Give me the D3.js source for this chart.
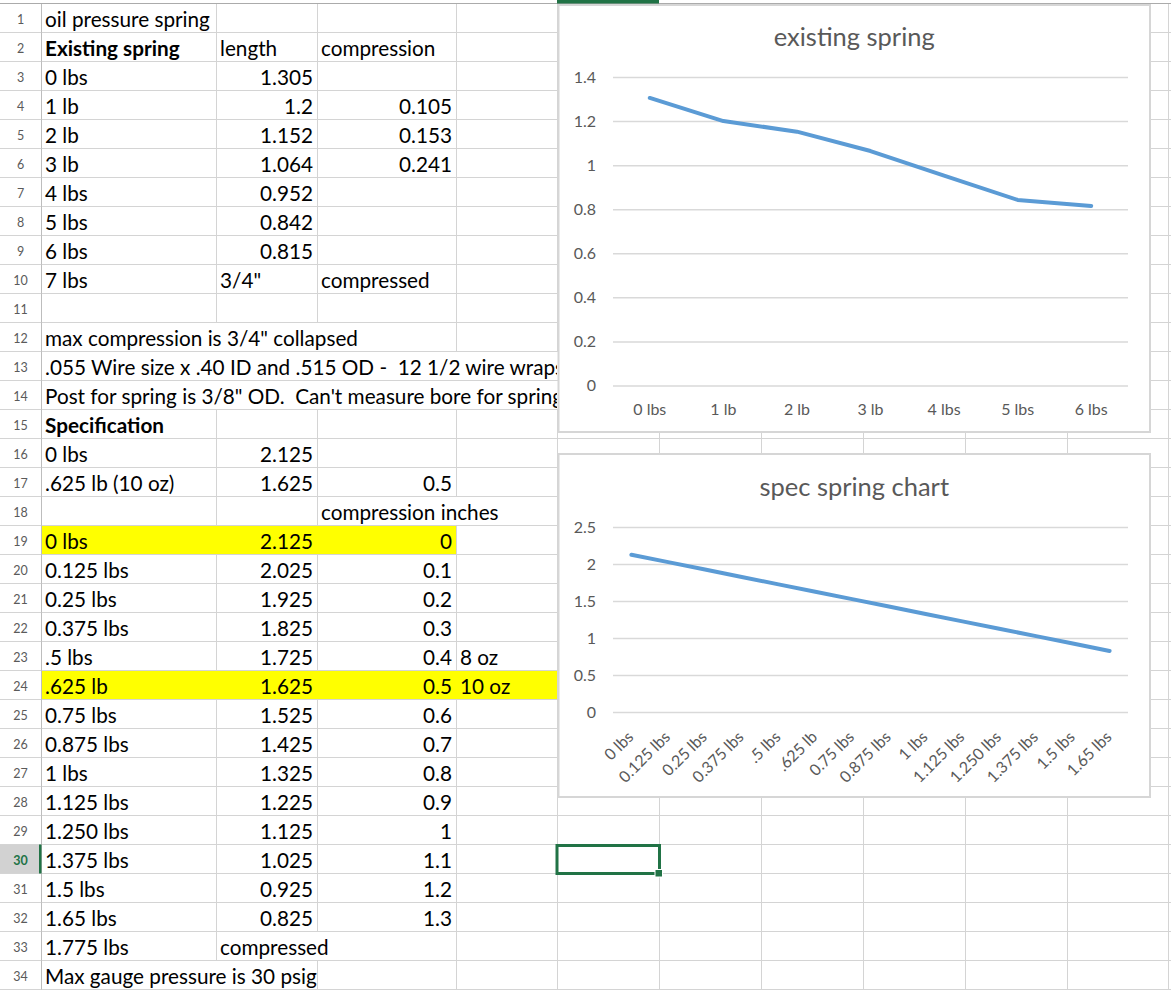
<!DOCTYPE html>
<html>
<head>
<meta charset="utf-8">
<script src="https://cdn.jsdelivr.net/npm/d3@7"></script>
<style>
  body { margin: 0; background: #fff; }
  svg { display: block; }
  text { white-space: pre; }
</style>
</head>
<body>
<svg id="sheet" width="1171" height="993"></svg>
<script>
// ---- data read from the sheet ----
var existingLabels = ['0 lbs', '1 lb', '2 lb', '3 lb', '4 lbs', '5 lbs', '6 lbs'];
var existingLength = [1.305, 1.2, 1.152, 1.064, 0.952, 0.842, 0.815];
var existingCompression = [null, 0.105, 0.153, 0.241, null, null, null];

var specLabels = ['0 lbs', '0.125 lbs', '0.25 lbs', '0.375 lbs', '.5 lbs', '.625 lb', '0.75 lbs',
  '0.875 lbs', '1 lbs', '1.125 lbs', '1.250 lbs', '1.375 lbs', '1.5 lbs', '1.65 lbs'];
var specLength = [2.125, 2.025, 1.925, 1.825, 1.725, 1.625, 1.525, 1.425, 1.325, 1.225, 1.125, 1.025, 0.925, 0.825];
var specCompression = [0, 0.1, 0.2, 0.3, 0.4, 0.5, 0.6, 0.7, 0.8, 0.9, 1, 1.1, 1.2, 1.3];
var specNotes = ['', '', '', '', '8 oz', '10 oz', '', '', '', '', '', '', '', ''];

var existingTicks = [0, 0.2, 0.4, 0.6, 0.8, 1, 1.2, 1.4];
var specTicks = [0, 0.5, 1, 1.5, 2, 2.5];

// other cells, [row, col, text, bold]
var extraCells = [
  [1, 0, 'oil pressure spring'],
  [2, 0, 'Existing spring', true], [2, 1, 'length'], [2, 2, 'compression'],
  [10, 0, '7 lbs'], [10, 1, '3/4"'], [10, 2, 'compressed'],
  [12, 0, 'max compression is 3/4" collapsed'],
  [13, 0, '.055 Wire size x .40 ID and .515 OD -  12 1/2 wire wraps -'],
  [14, 0, 'Post for spring is 3/8" OD.  Can\'t measure bore for spring'],
  [15, 0, 'Specification', true],
  [16, 0, '0 lbs'], [16, 1, 2.125],
  [17, 0, '.625 lb (10 oz)'], [17, 1, 1.625], [17, 2, 0.5],
  [18, 2, 'compression inches'],
  [33, 0, '1.775 lbs'], [33, 1, 'compressed'],
  [34, 0, 'Max gauge pressure is 30 psig']
];
var yellowRows = [[19, 3], [24, 4]];   // row, number of filled columns

// ---- layout ----
var colEdges = [0, 41, 216, 317, 456, 557, 659, 761, 863, 965, 1067, 1168];
var nRows = 34;
var rowTop0 = 3.5, rowH = 29;
var FONT = 'Lato, "Open Sans", sans-serif';
var GREEN = '#217346';

var canvas = document.createElement('canvas').getContext('2d');
function FitSize(str, target, weight)
{
  canvas.font = (weight || 'normal') + ' 100px Lato';
  return 100 * target / canvas.measureText(str).width;
}
function TextWidth(str, size, weight)
{
  canvas.font = (weight || 'normal') + ' ' + size + 'px Lato';
  return canvas.measureText(str).width;
}

var cellSize = FitSize('max compression is 3/4" collapsed', 313);
var titleSize = FitSize('existing spring', 161);
var tickFont = FitSize('0 lbs', 33);

function RowTop(r) { return rowTop0 + rowH * (r - 1); }

// build the cell table
var cells = [];
extraCells.forEach(function(c) { cells.push({row: c[0], col: c[1], v: c[2], bold: !!c[3]}); });
existingLabels.forEach(function(l, i)
{
  cells.push({row: 3 + i, col: 0, v: l});
  cells.push({row: 3 + i, col: 1, v: existingLength[i]});
  if (existingCompression[i] != null) cells.push({row: 3 + i, col: 2, v: existingCompression[i]});
});
specLabels.forEach(function(l, i)
{
  cells.push({row: 19 + i, col: 0, v: l});
  cells.push({row: 19 + i, col: 1, v: specLength[i]});
  cells.push({row: 19 + i, col: 2, v: specCompression[i]});
  if (specNotes[i]) cells.push({row: 19 + i, col: 3, v: specNotes[i]});
});

var filled = {};
cells.forEach(function(c) { filled[c.row + '_' + c.col] = true; });

// which vertical boundaries get covered by overflowing text
var hidden = {};
cells.forEach(function(c)
{
  if (typeof c.v !== 'string') return;
  var x0 = colEdges[c.col + 1] + 4;
  var xEnd = x0 + TextWidth(c.v, cellSize, c.bold ? 'bold' : 'normal');
  for (var k = c.col + 1; k < colEdges.length - 2; k++)
  {
    if (colEdges[k + 1] >= xEnd) break;
    if (filled[c.row + '_' + k]) break;
    hidden[c.row + '_' + (k + 1)] = true;
  }
});

var svg = d3.select('#sheet');

svg.append('defs').append('clipPath').attr('id', 'cellclip')
  .append('rect').attr('x', 0).attr('y', 0).attr('width', 557).attr('height', 993);

// yellow fills
svg.append('g').selectAll('rect').data(yellowRows).enter().append('rect')
  .attr('x', colEdges[1])
  .attr('y', function(d) { return RowTop(d[0]); })
  .attr('width', function(d) { return colEdges[1 + d[1]] - colEdges[1]; })
  .attr('height', rowH)
  .attr('fill', '#FFFF00');

// row header highlight for the active row
svg.append('rect').attr('x', 0).attr('y', RowTop(30)).attr('width', 41).attr('height', rowH).attr('fill', '#D2D2D2');

// gridlines
var gGrid = svg.append('g').attr('stroke', '#D4D4D4').attr('stroke-width', 1);
d3.range(1, nRows + 2).forEach(function(r)
{
  gGrid.append('line').attr('x1', 0).attr('x2', 1171)
    .attr('y1', RowTop(r)).attr('y2', RowTop(r));
});
var yellowSet = {};
yellowRows.forEach(function(d) { for (var k = 1; k < d[1]; k++) yellowSet[d[0] + '_' + (k + 1)] = true; });
d3.range(1, nRows + 1).forEach(function(r)
{
  for (var k = 1; k < colEdges.length; k++)
  {
    if (k > 1 && (hidden[r + '_' + k] || yellowSet[r + '_' + k])) continue;
    gGrid.append('line')
      .attr('x1', colEdges[k] + 0.5).attr('x2', colEdges[k] + 0.5)
      .attr('y1', RowTop(r)).attr('y2', RowTop(r + 1))
      .attr('stroke', k == 1 ? '#BDBDBD' : null);
  }
});

// header strip at the top
svg.append('line').attr('x1', 0).attr('x2', 1171).attr('y1', 3.5).attr('y2', 3.5).attr('stroke', '#ABABAB');
svg.append('rect').attr('x', 557).attr('y', 0).attr('width', 102).attr('height', 3.5).attr('fill', GREEN);

// row numbers
svg.append('g').selectAll('text').data(d3.range(1, nRows + 1)).enter().append('text')
  .attr('x', 20.5)
  .attr('y', function(r) { return RowTop(r) + 20; })
  .attr('text-anchor', 'middle')
  .attr('font-family', FONT)
  .attr('font-size', 12.5)
  .attr('font-weight', function(r) { return r == 30 ? 'bold' : 'normal'; })
  .attr('fill', function(r) { return r == 30 ? GREEN : '#5A5A5A'; })
  .text(function(r) { return r; });
svg.append('rect').attr('x', 39).attr('y', RowTop(30)).attr('width', 2.5).attr('height', rowH).attr('fill', GREEN);

// cell texts
svg.append('g').attr('clip-path', 'url(#cellclip)')
  .selectAll('text').data(cells).enter().append('text')
  .attr('x', function(c) { return typeof c.v === 'string' ? colEdges[c.col + 1] + 4 : colEdges[c.col + 2] - 4; })
  .attr('y', function(c) { return RowTop(c.row) + 23; })
  .attr('text-anchor', function(c) { return typeof c.v === 'string' ? 'start' : 'end'; })
  .attr('font-family', FONT)
  .attr('font-size', cellSize)
  .attr('font-weight', function(c) { return c.bold ? 'bold' : 'normal'; })
  .attr('fill', '#000')
  .text(function(c) { return String(c.v); });

// active cell E30
svg.append('rect').attr('x', 557).attr('y', RowTop(30) + 1).attr('width', 102.5).attr('height', rowH - 1)
  .attr('fill', 'none').attr('stroke', GREEN).attr('stroke-width', 3);
svg.append('rect').attr('x', 655).attr('y', RowTop(30) + 25).attr('width', 7.5).attr('height', 7.5)
  .attr('fill', GREEN).attr('stroke', '#fff').attr('stroke-width', 1);

// ---- charts ----
function DrawLineChart(box, title, labels, values, ticks, yTop, yZero, rotateLabels)
{
  var g = svg.append('g');
  g.append('rect')
    .attr('x', box.x).attr('y', box.y).attr('width', box.w).attr('height', box.h)
    .attr('fill', '#fff').attr('stroke', '#D6D6D6').attr('stroke-width', 2);

  g.append('text')
    .attr('x', box.x + box.w / 2).attr('y', box.titleY)
    .attr('text-anchor', 'middle')
    .attr('font-family', FONT).attr('font-size', titleSize).attr('fill', '#595959')
    .text(title);

  var x = d3.scaleBand().domain(labels).range([613, 1128]);
  var y = d3.scaleLinear().domain([0, ticks[ticks.length - 1]]).range([yZero, yTop]);

  var gy = g.append('g').attr('transform', 'translate(613,0)')
    .call(d3.axisLeft(y).tickValues(ticks).tickSize(-515).tickPadding(17).tickFormat(function(d) { return String(d); }));
  gy.select('.domain').remove();
  gy.selectAll('line').attr('stroke', '#D9D9D9').attr('stroke-width', 1.5);
  gy.selectAll('text').attr('font-family', FONT).attr('font-size', tickFont).attr('fill', '#595959');

  var gx = g.append('g').attr('transform', 'translate(0,' + yZero + ')')
    .call(d3.axisBottom(x).tickSize(0).tickPadding(18));
  gx.select('.domain').remove();
  var tx = gx.selectAll('text').attr('font-family', FONT).attr('font-size', tickFont).attr('fill', '#595959');
  if (rotateLabels)
  {
    tx.attr('y', 0).attr('dy', 0).attr('text-anchor', 'end')
      .attr('transform', 'translate(3,26) rotate(-45)');
  }

  var line = d3.line()
    .x(function(d, i) { return x(labels[i]) + x.bandwidth() / 2; })
    .y(function(d) { return y(d); });
  g.append('path').datum(values)
    .attr('d', line)
    .attr('fill', 'none').attr('stroke', '#5B9BD5').attr('stroke-width', 4)
    .attr('stroke-linejoin', 'round').attr('stroke-linecap', 'round');
}

DrawLineChart({x: 558.5, y: 5, w: 591.5, h: 427, titleY: 46}, 'existing spring',
  existingLabels, existingLength, existingTicks, 77, 385.5, false);
DrawLineChart({x: 558.5, y: 454, w: 591.5, h: 343, titleY: 496}, 'spec spring chart',
  specLabels, specLength, specTicks, 527, 712, true);
</script>
</body>
</html>
